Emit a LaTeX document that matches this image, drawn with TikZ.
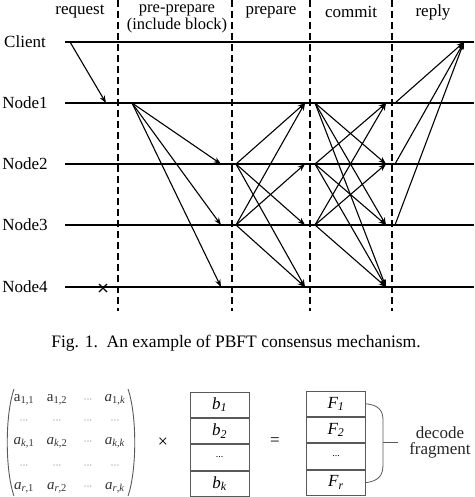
\documentclass[tikz,border=0pt]{standalone}
\usepackage{fontspec}
\setmainfont{Liberation Serif}
\usetikzlibrary{arrows.meta}
\begin{document}
\begin{tikzpicture}[x=1pt,y=-1pt,
  lbl/.style={font=\fontsize{17}{18}\selectfont, inner sep=0pt},
  hline/.style={line width=1.3pt},
  phase/.style={line width=1.9pt, dash pattern=on 7pt off 4pt},
  msg/.style={line width=1.1pt, -{Stealth[length=7.5pt,width=5.5pt]}},
  cell/.style={draw=black!65, line width=0.8pt, minimum width=59pt, minimum height=25.5pt, inner sep=0pt, font=\fontsize{17}{18}\selectfont\itshape},
  ent/.style={font=\fontsize{15}{16}\selectfont, text=black!80, inner sep=0pt},
  dts/.style={font=\fontsize{9}{10}\selectfont, text=black!60, inner sep=0pt}]
\useasboundingbox (0,0) rectangle (474,497);
% rows
\foreach \i/\y/\t in {0/42/Client,1/103/Node1,2/164/Node2,3/225/Node3,4/287/Node4}{
  \node[lbl] (lab\i) at (25,\y) {\t};
  \coordinate (L\i) at (65,\y);
  \coordinate (R\i) at (474,\y);
  \coordinate (pps\i) at (132,\y);
  \coordinate (ppe\i) at (221,\y);
  \coordinate (ps\i) at (236,\y);
  \coordinate (pe\i) at (305,\y);
  \coordinate (cs\i) at (315,\y);
  \coordinate (ce\i) at (386,\y);
  \coordinate (rs\i) at (395,\y);
  \coordinate (re\i) at (464,\y);
  \draw[hline] (L\i) -- (R\i);
}
% phase separators
\foreach \j/\x in {1/118,2/232,3/310,4/392}{
  \coordinate (dt\j) at (\x,0);
  \coordinate (db\j) at (\x,311);
  \draw[phase] (dt\j) -- (db\j);
}
% headers
\node[lbl] (hreq) at (80,12) {request};
\node[font=\fontsize{16.5}{17}\selectfont, inner sep=0pt, align=center] (hpp) at (177,19) {pre-prepare\\(include block)};
\node[lbl] (hp) at (271,12) {prepare};
\node[lbl] (hc) at (351,12) {commit};
\node[lbl] (hr) at (433,12) {reply};
% request
\coordinate (rq) at (70,42);
\coordinate (rqe) at (106,103);
\draw[msg] (rq) -- (rqe);
% pre-prepare
\foreach \k in {2,3,4} \draw[msg] (pps1) -- (ppe\k);
% prepare
\foreach \k in {1,3,4} \draw[msg] (ps2) -- (pe\k);
\foreach \k in {1,2,4} \draw[msg] (ps3) -- (pe\k);
% commit
\foreach \k in {2,3,4} \draw[msg] (cs1) -- (ce\k);
\foreach \k in {1,3,4} \draw[msg] (cs2) -- (ce\k);
\foreach \k in {1,2,4} \draw[msg] (cs3) -- (ce\k);
% reply
\foreach \k in {1,2,3} \draw[msg] (rs\k) -- (re0);
% crash mark
\coordinate (x4) at (103,288);
\draw[line width=1.1pt] ([shift={(-4,-4)}]x4) -- ([shift={(4,4)}]x4) ([shift={(-4,4)}]x4) -- ([shift={(4,-4)}]x4);
% caption
\node[font=\fontsize{17.5}{19}\selectfont, inner sep=0pt] (cap) at (236,343) {Fig. 1.\ \ An example of PBFT consensus mechanism.};
% matrix
\draw[black!65, line width=0.9pt] (14,389) .. controls (5,415) and (5,470) .. (14,496);
\draw[black!65, line width=0.9pt] (128,389) .. controls (137,415) and (137,470) .. (128,496);
\node[ent] (a11) at (24,400) {a\textsubscript{1,1}};
\node[ent] (a12) at (57,400) {a\textsubscript{1,2}};
\node[dts] (a13) at (88,401) {···};
\node[ent] (a14) at (115,400) {\textit{a}\textsubscript{1,\textit{k}}};
\node[dts] (d21) at (24,422) {···};
\node[dts] (d22) at (57,422) {···};
\node[dts] (d23) at (88,422) {···};
\node[dts] (d24) at (115,422) {···};
\node[ent] (ak1) at (24,443) {\textit{a}\textsubscript{\textit{k},1}};
\node[ent] (ak2) at (57,443) {\textit{a}\textsubscript{\textit{k},2}};
\node[dts] (ak3) at (88,443) {···};
\node[ent] (akk) at (115,443) {\textit{a}\textsubscript{\textit{k},\textit{k}}};
\node[dts] (d41) at (24,467) {···};
\node[dts] (d42) at (57,467) {···};
\node[dts] (d43) at (88,467) {···};
\node[dts] (d44) at (115,467) {···};
\node[ent] (ar1) at (24,488) {\textit{a}\textsubscript{\textit{r},1}};
\node[ent] (ar2) at (57,488) {\textit{a}\textsubscript{\textit{r},2}};
\node[dts] (ar3) at (88,488) {···};
\node[ent] (ark) at (115,488) {\textit{a}\textsubscript{\textit{r},\textit{k}}};
\node[font=\fontsize{18}{18}\selectfont, inner sep=0pt] (times) at (163,443) {×};
% b vector
\node[cell] (b1) at (219.5,404.75) {b\textsubscript{1}};
\node[cell, anchor=north] (b2) at (b1.south) {b\textsubscript{2}};
\node[cell, anchor=north] (b3) at (b2.south) {\upshape\fontsize{10}{11}\selectfont ...};
\node[cell, anchor=north] (b4) at (b3.south) {b\textsubscript{\textit{k}}};
\node[font=\fontsize{17}{18}\selectfont, inner sep=0pt] (eq) at (275,442) {=};
% F vector
\node[cell] (F1) at (336,403.75) {F\textsubscript{1}};
\node[cell, anchor=north] (F2) at (F1.south) {F\textsubscript{2}};
\node[cell, anchor=north] (F3) at (F2.south) {\upshape\fontsize{10}{11}\selectfont ...};
\node[cell, anchor=north] (F4) at (F3.south) {F\textsubscript{\textit{r}}};
% brace
\draw[black!65, line width=0.8pt] (F1.east) .. controls (378,405) and (383,410) .. (383,420) -- (383,465) .. controls (383,476) and (378,481) .. (F4.east);
\coordinate (bm) at (383,442);
\coordinate (bt) at (398,442);
\draw[black!65, line width=0.8pt] (bm) -- (bt);
\node[lbl, align=center, text=black!85] (dec) at (440,442) {decode\\[-2pt]fragment};
\end{tikzpicture}
\end{document}
